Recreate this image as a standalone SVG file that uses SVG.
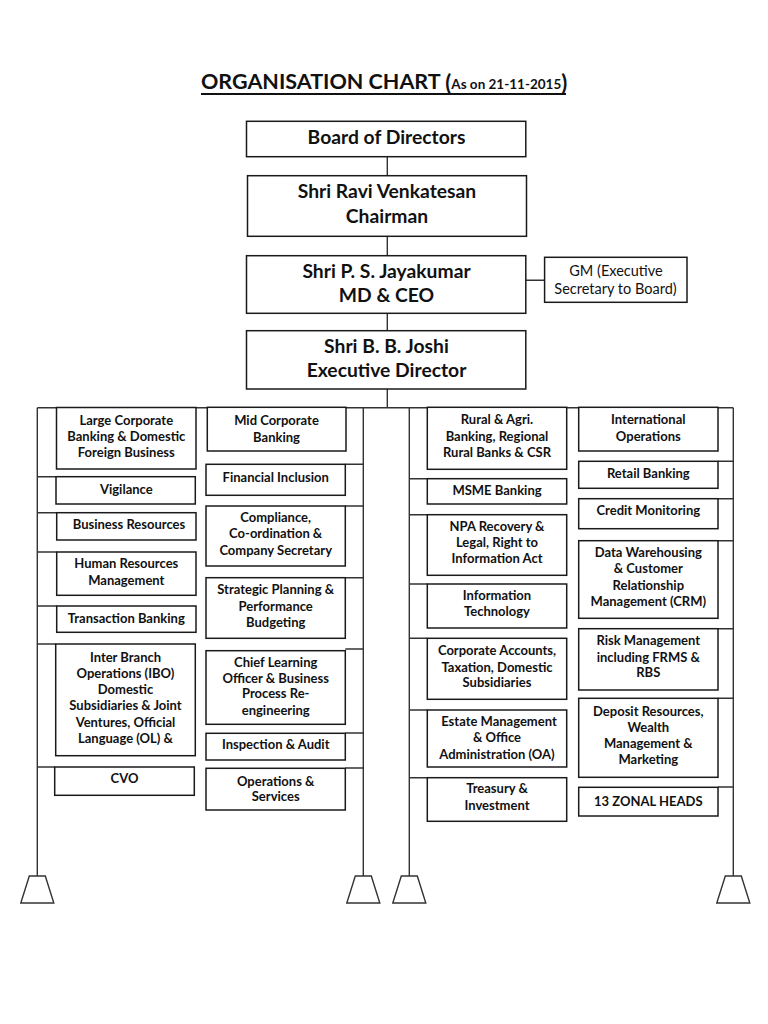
<svg xmlns="http://www.w3.org/2000/svg" width="768" height="1024" viewBox="0 0 768 1024">
<style>
.bx{fill:#fff;stroke:#1a1a1a;stroke-width:1.5}
.ln{fill:none;stroke:#333;stroke-width:1.4}
.ft{fill:#fff;stroke:#333;stroke-width:1.4}
text{font-family:Lato,"Open Sans","Liberation Sans",sans-serif;fill:#111;text-anchor:middle}
.t{font-size:13px;font-weight:bold}
.big{font-size:19.3px;font-weight:bold}
.gm{font-size:14.5px}
</style>
<rect width="768" height="1024" fill="#fff"/>
<g id="title">
<text x="201" y="89" style="text-anchor:start;font-weight:bold;font-size:21.5px">ORGANISATION CHART <tspan style="font-size:22px" dy="2">(</tspan><tspan style="font-size:13.5px" dy="-2">As on 21-11-2015</tspan><tspan style="font-size:22px" dy="2">)</tspan></text>
<line x1="201" y1="94" x2="566" y2="94" stroke="#111" stroke-width="1.8"/>
</g>
<g id="connectors">
<path class="ln" d="M387.3 156.7V175.7M387.3 236.3V255.7M387.3 313.3V330.7M387.3 389V407.7M525.8 280.3H544.6"/>
<path class="ln" d="M37.3 407.7H733.3M37.3 407.7V876M363.3 407.7V876M409.3 407.7V876M733.3 407.7V876"/>
<path class="ln" d="M37.3 476.7H56M37.3 512.7H56.7M37.3 552H56.7M37.3 606H56.7M37.3 644H55.7M37.3 767H54.7"/>
<path class="ln" d="M345.3 464.3H363.3M345.3 506H363.3M345.3 577.7H363.3M345.3 649H363.3M345.3 733H363.3M345.3 768H363.3"/>
<path class="ln" d="M409.3 478.7H427.3M409.3 514.7H427.3M409.3 584H427.3M409.3 638.3H427.3M409.3 710H427.3M409.3 777.7H427.3"/>
<path class="ln" d="M718 461.3H733.3M718 498.7H733.3M718 540.7H733.3M718 628.7H733.3M718 698.3H733.3M718 787H733.3"/>
<path class="ft" d="M29.3 876H45.3L53.8 903H20.8Z"/>
<path class="ft" d="M355.3 876H371.3L379.8 903H346.8Z"/>
<path class="ft" d="M401.3 876H417.3L425.8 903H392.8Z"/>
<path class="ft" d="M725.3 876H741.3L749.8 903H716.8Z"/>
</g>
<g id="board"><rect class="bx" x="246.5" y="121.3" width="279.3" height="35.4"/><text class="big" x="386.5" y="143.5">Board of Directors</text></g>
<g id="chairman"><rect class="bx" x="247.5" y="175.7" width="279" height="60.6"/><text class="big" x="387" y="198.3">Shri Ravi Venkatesan</text><text class="big" x="387" y="222.7">Chairman</text></g>
<g id="mdceo"><rect class="bx" x="246.5" y="255.7" width="279.3" height="57.6"/><text class="big" x="386.5" y="278.3">Shri P. S. Jayakumar</text><text class="big" x="386.5" y="301.7">MD &amp; CEO</text></g>
<g id="gm"><rect class="bx" x="544.6" y="257.3" width="142.4" height="45"/><text class="gm" x="616" y="276">GM (Executive</text><text class="gm" x="615.5" y="294">Secretary to Board)</text></g>
<g id="ed"><rect class="bx" x="246.5" y="330.7" width="279.3" height="58.3"/><text class="big" x="386.5" y="353.3">Shri B. B. Joshi</text><text class="big" x="386.5" y="376.7">Executive Director</text></g>

<g id="large-corporate"><rect class="bx" x="56.5" y="407.5" width="139.5" height="61.5"/><text class="t" x="126.3" y="425">Large Corporate</text><text class="t" x="126.3" y="441">Banking &amp; Domestic</text><text class="t" x="126.3" y="457.3">Foreign Business</text></g>
<g id="vigilance"><rect class="bx" x="56" y="476.7" width="139.3" height="27.3"/><text class="t" x="126.3" y="494.3">Vigilance</text></g>
<g id="business-resources"><rect class="bx" x="56.7" y="512.7" width="139.3" height="27.3"/><text class="t" x="129" y="529.3">Business Resources</text></g>
<g id="hrm"><rect class="bx" x="56.7" y="552" width="139.3" height="43.3"/><text class="t" x="126.3" y="568.3">Human Resources</text><text class="t" x="126.3" y="585">Management</text></g>
<g id="transaction-banking"><rect class="bx" x="56.7" y="606" width="139.3" height="26.3"/><text class="t" x="126.3" y="623.3">Transaction Banking</text></g>
<g id="ibo"><rect class="bx" x="55.7" y="644" width="139.6" height="111.7"/><text class="t" x="125.5" y="661.7">Inter Branch</text><text class="t" x="125.5" y="678.3">Operations (IBO)</text><text class="t" x="125.5" y="694.3">Domestic</text><text class="t" x="125.5" y="710.3">Subsidiaries &amp; Joint</text><text class="t" x="125.5" y="726.7">Ventures, Official</text><text class="t" x="125.5" y="743.3">Language (OL) &amp;</text></g>
<g id="cvo"><rect class="bx" x="54.7" y="767" width="139.6" height="28.3"/><text class="t" x="124.5" y="783.3">CVO</text></g>

<g id="mid-corporate"><rect class="bx" x="207.3" y="407.3" width="138.7" height="43.7"/><text class="t" x="276.5" y="425">Mid Corporate</text><text class="t" x="276.5" y="441.7">Banking</text></g>
<g id="financial-inclusion"><rect class="bx" x="206" y="464.3" width="139.3" height="31"/><text class="t" x="275.7" y="481.7">Financial Inclusion</text></g>
<g id="compliance"><rect class="bx" x="206" y="506" width="139.3" height="60"/><text class="t" x="275.7" y="521.7">Compliance,</text><text class="t" x="275.7" y="537.7">Co-ordination &amp;</text><text class="t" x="275.7" y="555">Company Secretary</text></g>
<g id="strategic-planning"><rect class="bx" x="206" y="577.7" width="139.3" height="60.6"/><text class="t" x="275.7" y="594.3">Strategic Planning &amp;</text><text class="t" x="275.7" y="611">Performance</text><text class="t" x="275.7" y="626.7">Budgeting</text></g>
<g id="chief-learning"><rect class="bx" x="206" y="650.7" width="139.3" height="73.6"/><text class="t" x="275.7" y="666.7">Chief Learning</text><text class="t" x="275.7" y="682.7">Officer &amp; Business</text><text class="t" x="275.7" y="698.3">Process Re-</text><text class="t" x="275.7" y="715">engineering</text></g>
<g id="inspection-audit"><rect class="bx" x="206" y="733.3" width="139.3" height="26.7"/><text class="t" x="275.7" y="749">Inspection &amp; Audit</text></g>
<g id="operations-services"><rect class="bx" x="206" y="768.3" width="139.3" height="41.7"/><text class="t" x="275.7" y="785.7">Operations &amp;</text><text class="t" x="275.7" y="801">Services</text></g>

<g id="rural-agri"><rect class="bx" x="427.3" y="407.3" width="139.4" height="62"/><text class="t" x="497" y="424.3">Rural &amp; Agri.</text><text class="t" x="497" y="440.7">Banking, Regional</text><text class="t" x="497" y="456.7">Rural Banks &amp; CSR</text></g>
<g id="msme"><rect class="bx" x="427.3" y="478.7" width="139.4" height="25.3"/><text class="t" x="497" y="495">MSME Banking</text></g>
<g id="npa"><rect class="bx" x="427.3" y="514.7" width="139.4" height="60.6"/><text class="t" x="497" y="531">NPA Recovery &amp;</text><text class="t" x="497" y="547.3">Legal, Right to</text><text class="t" x="497" y="563.3">Information Act</text></g>
<g id="it"><rect class="bx" x="427.3" y="584" width="139.4" height="44"/><text class="t" x="497" y="600">Information</text><text class="t" x="497" y="616">Technology</text></g>
<g id="corporate-accounts"><rect class="bx" x="427.3" y="638.3" width="139.4" height="61"/><text class="t" x="497" y="655">Corporate Accounts,</text><text class="t" x="497" y="671.7">Taxation, Domestic</text><text class="t" x="497" y="687.3">Subsidiaries</text></g>
<g id="estate-management"><rect class="bx" x="427.3" y="710" width="139.4" height="57"/><text class="t" x="499" y="726">Estate Management</text><text class="t" x="497" y="742.3">&amp; Office</text><text class="t" x="497" y="759.3">Administration (OA)</text></g>
<g id="treasury"><rect class="bx" x="427.3" y="777.7" width="139.4" height="43.6"/><text class="t" x="497" y="793.3">Treasury &amp;</text><text class="t" x="497" y="810">Investment</text></g>

<g id="international"><rect class="bx" x="578.7" y="407.3" width="139.3" height="43.7"/><text class="t" x="648.3" y="424.3">International</text><text class="t" x="648.3" y="440.7">Operations</text></g>
<g id="retail"><rect class="bx" x="578.7" y="461.3" width="139.3" height="27"/><text class="t" x="648.3" y="478.3">Retail Banking</text></g>
<g id="credit-monitoring"><rect class="bx" x="578.7" y="498.7" width="139.3" height="30"/><text class="t" x="648.3" y="515">Credit Monitoring</text></g>
<g id="data-warehousing"><rect class="bx" x="578.7" y="540.7" width="139.3" height="77.6"/><text class="t" x="648.3" y="556.7">Data Warehousing</text><text class="t" x="648.3" y="573.3">&amp; Customer</text><text class="t" x="648.3" y="590">Relationship</text><text class="t" x="648.3" y="606">Management (CRM)</text></g>
<g id="risk-management"><rect class="bx" x="578.7" y="628.7" width="139.3" height="61.3"/><text class="t" x="648.3" y="645">Risk Management</text><text class="t" x="648.3" y="661.7">including FRMS &amp;</text><text class="t" x="648.3" y="677.3">RBS</text></g>
<g id="deposit-resources"><rect class="bx" x="578.7" y="698.3" width="139.3" height="79"/><text class="t" x="648.3" y="716">Deposit Resources,</text><text class="t" x="648.3" y="731.7">Wealth</text><text class="t" x="648.3" y="747.7">Management &amp;</text><text class="t" x="648.3" y="764.3">Marketing</text></g>
<g id="zonal-heads"><rect class="bx" x="578.7" y="787.3" width="139.3" height="28.7"/><text class="t" x="648.3" y="805.7">13 ZONAL HEADS</text></g>
</svg>
